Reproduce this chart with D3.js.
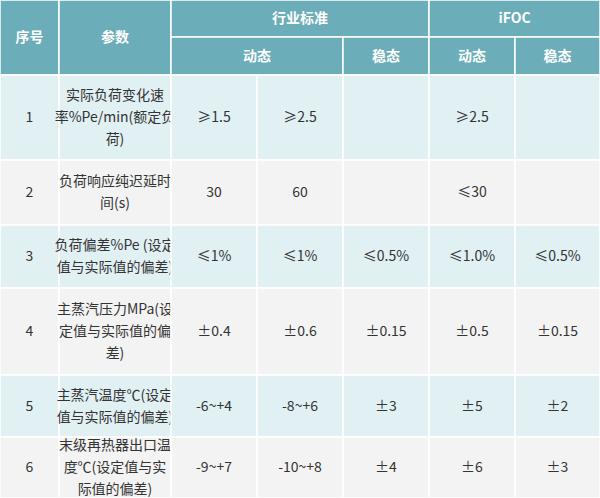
<!DOCTYPE html>
<html><head><meta charset="utf-8">
<script src="https://cdn.jsdelivr.net/npm/d3@7"></script>
<style>body{margin:0;background:#fff}text{font-family:"Noto Sans CJK SC","Noto Sans",sans-serif}</style>
</head><body><div id="chart"></div>
<script>
var ids = ["1", "2", "3", "4", "5", "6"];
var params = [
  ["实际负荷变化速", "率%Pe/min(额定负", "荷)"],
  ["负荷响应纯迟延时", "间(s)"],
  ["负荷偏差%Pe (设定", "值与实际值的偏差)"],
  ["主蒸汽压力MPa(设", "定值与实际值的偏", "差)"],
  ["主蒸汽温度℃(设定", "值与实际值的偏差)"],
  ["末级再热器出口温", "度℃(设定值与实", "际值的偏差)"]
];
var stdDyn1 = ["≥1.5", "30", "≤1%", "±0.4", "-6~+4", "-9~+7"];
var stdDyn2 = ["≥2.5", "60", "≤1%", "±0.6", "-8~+6", "-10~+8"];
var stdSteady = ["", "", "≤0.5%", "±0.15", "±3", "±4"];
var ifocDyn = ["≥2.5", "≤30", "≤1.0%", "±0.5", "±5", "±6"];
var ifocSteady = ["", "", "≤0.5%", "±0.15", "±2", "±3"];

var width = 600, height = 498;
var colEdges = [0, 59, 171, 257, 343, 429, 515, 600];
var rowEdges = [0, 37, 75, 160, 225, 288, 375, 437, 498];
var x = d3.scaleLinear().domain([0, 7]).range([0, width]);
var xe = function(i) { return colEdges[i]; };
var ye = function(i) { return rowEdges[i]; };

var svg = d3.select("#chart").append("svg").attr("width", width).attr("height", height);
var head = "#6badb8", odd = "#e1f0f3", even = "#f3f3f3";

function cell(c0, c1, r0, r1, fill, lines, bold) {
  var g = svg.append("g");
  g.append("rect").attr("x", xe(c0)).attr("y", ye(r0))
    .attr("width", xe(c1) - xe(c0)).attr("height", ye(r1) - ye(r0))
    .attr("fill", fill).attr("stroke", "#fff").attr("stroke-width", 1.5);
  var cx = (xe(c0) + xe(c1)) / 2, cy = (ye(r0) + ye(r1)) / 2, lh = 22;
  lines.forEach(function(t, i) {
    g.append("text").attr("x", cx).attr("y", cy + (i - (lines.length - 1) / 2) * lh)
      .attr("dy", "0.35em").attr("text-anchor", "middle")
      .attr("font-size", 14).attr("font-weight", bold ? "bold" : "normal")
      .attr("fill", bold ? "#fff" : "#333").text(t);
  });
}

cell(0, 1, 0, 2, head, ["序号"], true);
cell(1, 2, 0, 2, head, ["参数"], true);
cell(2, 5, 0, 1, head, ["行业标准"], true);
cell(5, 7, 0, 1, head, ["iFOC"], true);
cell(2, 4, 1, 2, head, ["动态"], true);
cell(4, 5, 1, 2, head, ["稳态"], true);
cell(5, 6, 1, 2, head, ["动态"], true);
cell(6, 7, 1, 2, head, ["稳态"], true);

ids.forEach(function(id, i) {
  var r = i + 2, f = i % 2 === 0 ? odd : even;
  var vals = [[id], params[i], [stdDyn1[i]], [stdDyn2[i]], [stdSteady[i]], [ifocDyn[i]], [ifocSteady[i]]];
  vals.forEach(function(v, c) { cell(c, c + 1, r, r + 1, f, v, false); });
});
</script></body></html>
